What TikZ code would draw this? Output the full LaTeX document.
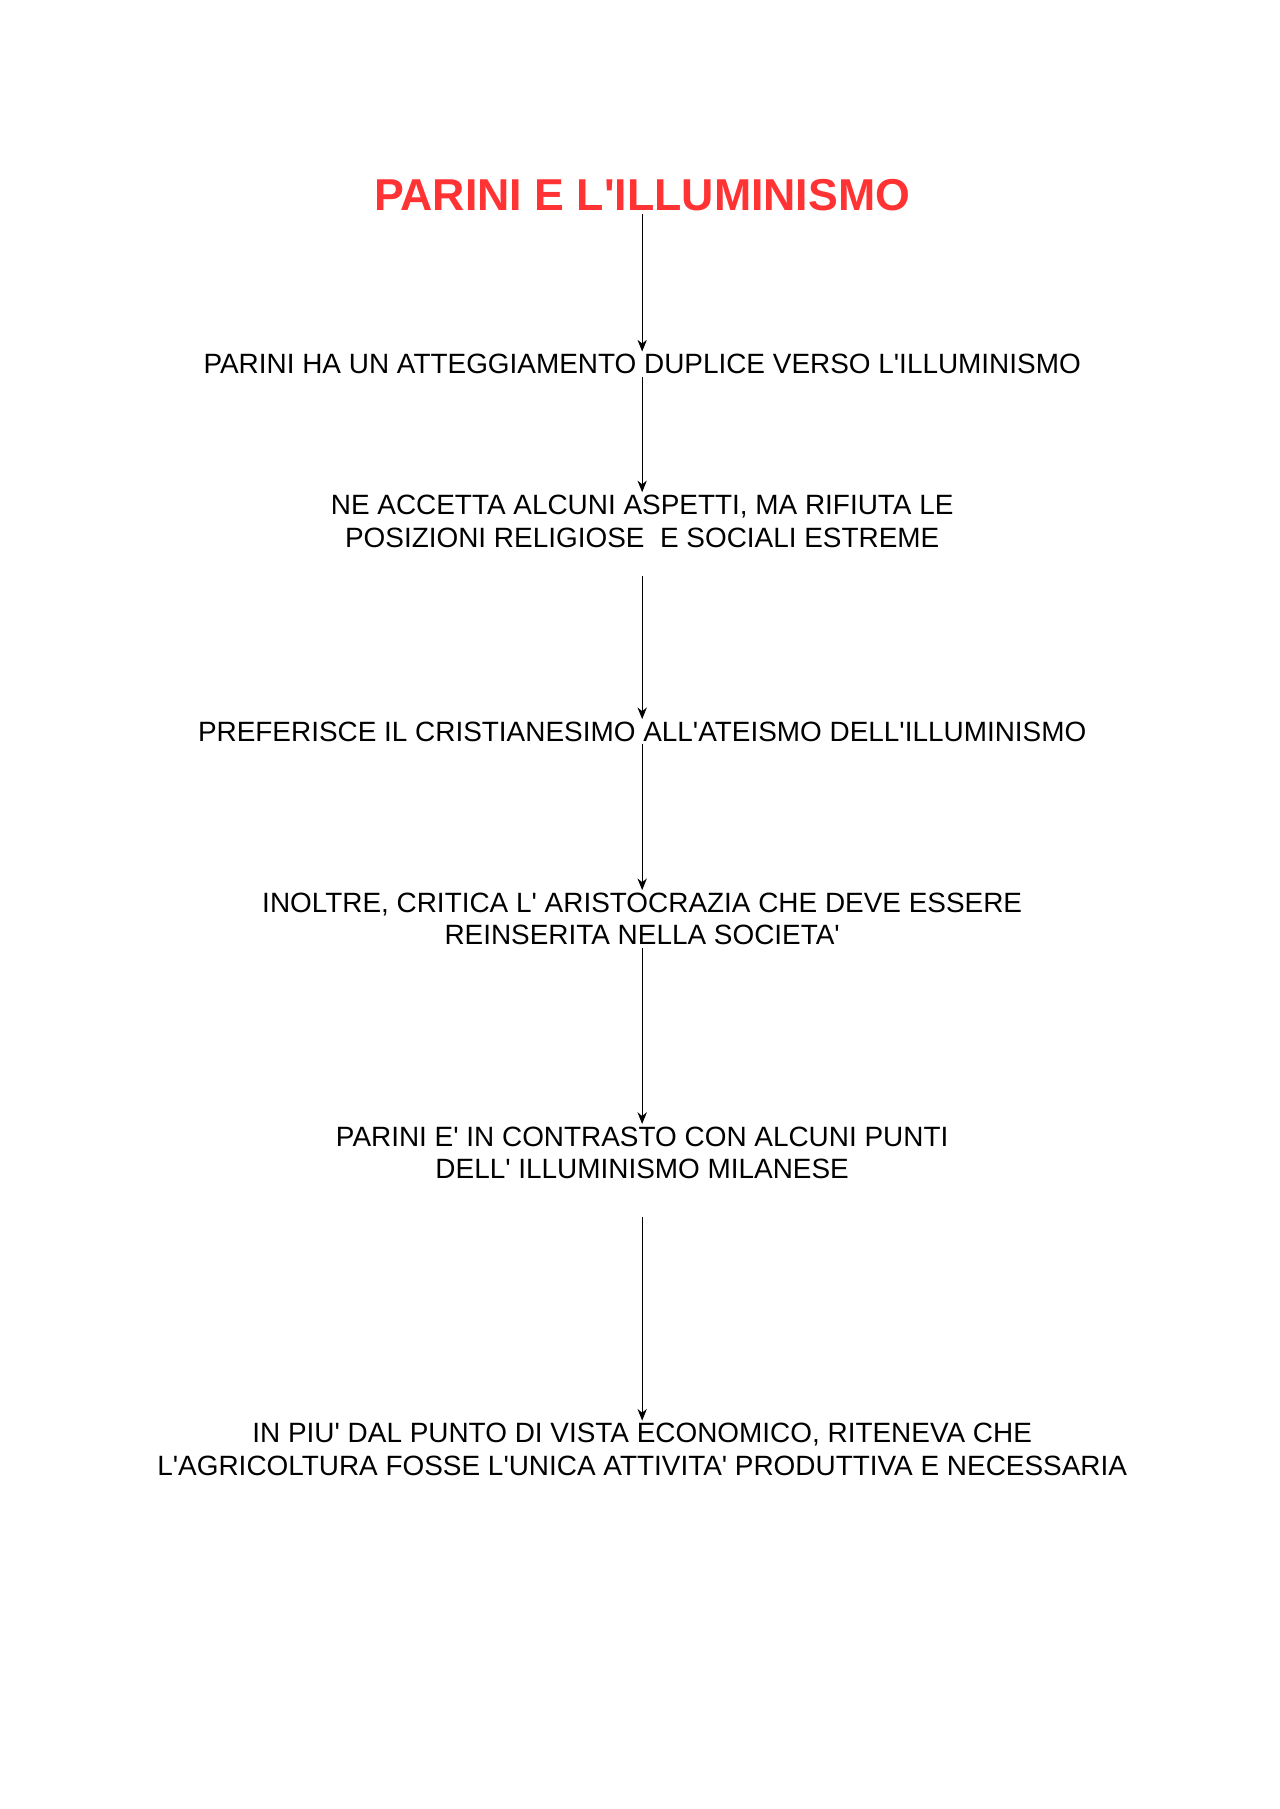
\documentclass[tikz,border=0pt]{standalone}
\usepackage{fontspec}
\setmainfont{Liberation Sans}[Ligatures=TeXOff]
\usetikzlibrary{arrows.meta}
\newcommand\apo{'}
\tikzset{
  stepnode/.style={align=center, font=\fontsize{12}{14}\selectfont, inner sep=1pt},
  flow/.style={-{Stealth[length=5pt,width=4pt]}, thin}
}
\begin{document}
\begin{tikzpicture}[x=0.5pt, y=-0.5pt]

    % Page
    \useasboundingbox (0, 0) rectangle (1100, 1555);

    % Title
    \node[font=\bfseries\fontsize{19.2}{22}\selectfont, text=red!80!white, inner sep=1pt] (title) at (552, 168) {PARINI E L\apo ILLUMINISMO};

    % Steps
    \node[stepnode] (duplice) at (552, 313) {PARINI HA UN ATTEGGIAMENTO DUPLICE VERSO L\apo ILLUMINISMO};
    \node[stepnode] (accetta) at (552, 448) {NE ACCETTA ALCUNI ASPETTI, MA RIFIUTA LE\\POSIZIONI RELIGIOSE\ \ E SOCIALI ESTREME};
    \node[stepnode] (cristiano) at (552, 629) {PREFERISCE IL CRISTIANESIMO ALL\apo ATEISMO DELL\apo ILLUMINISMO};
    \node[stepnode] (aristo) at (552, 790) {INOLTRE, CRITICA L\apo\ ARISTOCRAZIA CHE DEVE ESSERE\\REINSERITA NELLA SOCIETA\apo};
    \node[stepnode] (contrasto) at (552, 991) {PARINI E\apo\ IN CONTRASTO CON ALCUNI PUNTI\\DELL\apo\ ILLUMINISMO MILANESE};
    \node[stepnode] (economia) at (552, 1246) {IN PIU\apo\ DAL PUNTO DI VISTA ECONOMICO, RITENEVA CHE\\L\apo AGRICOLTURA FOSSE L\apo UNICA ATTIVITA\apo\ PRODUTTIVA E NECESSARIA};

    % Arrows
    \draw[flow] (title) -- (duplice);
    \draw[flow] (duplice) -- (accetta);
    \draw[flow, shorten <=11] (accetta) -- (cristiano);
    \draw[flow] (cristiano) -- (aristo);
    \draw[flow] (aristo) -- (contrasto);
    \draw[flow, shorten <=15] (contrasto) -- (economia);

\end{tikzpicture}
\end{document}
